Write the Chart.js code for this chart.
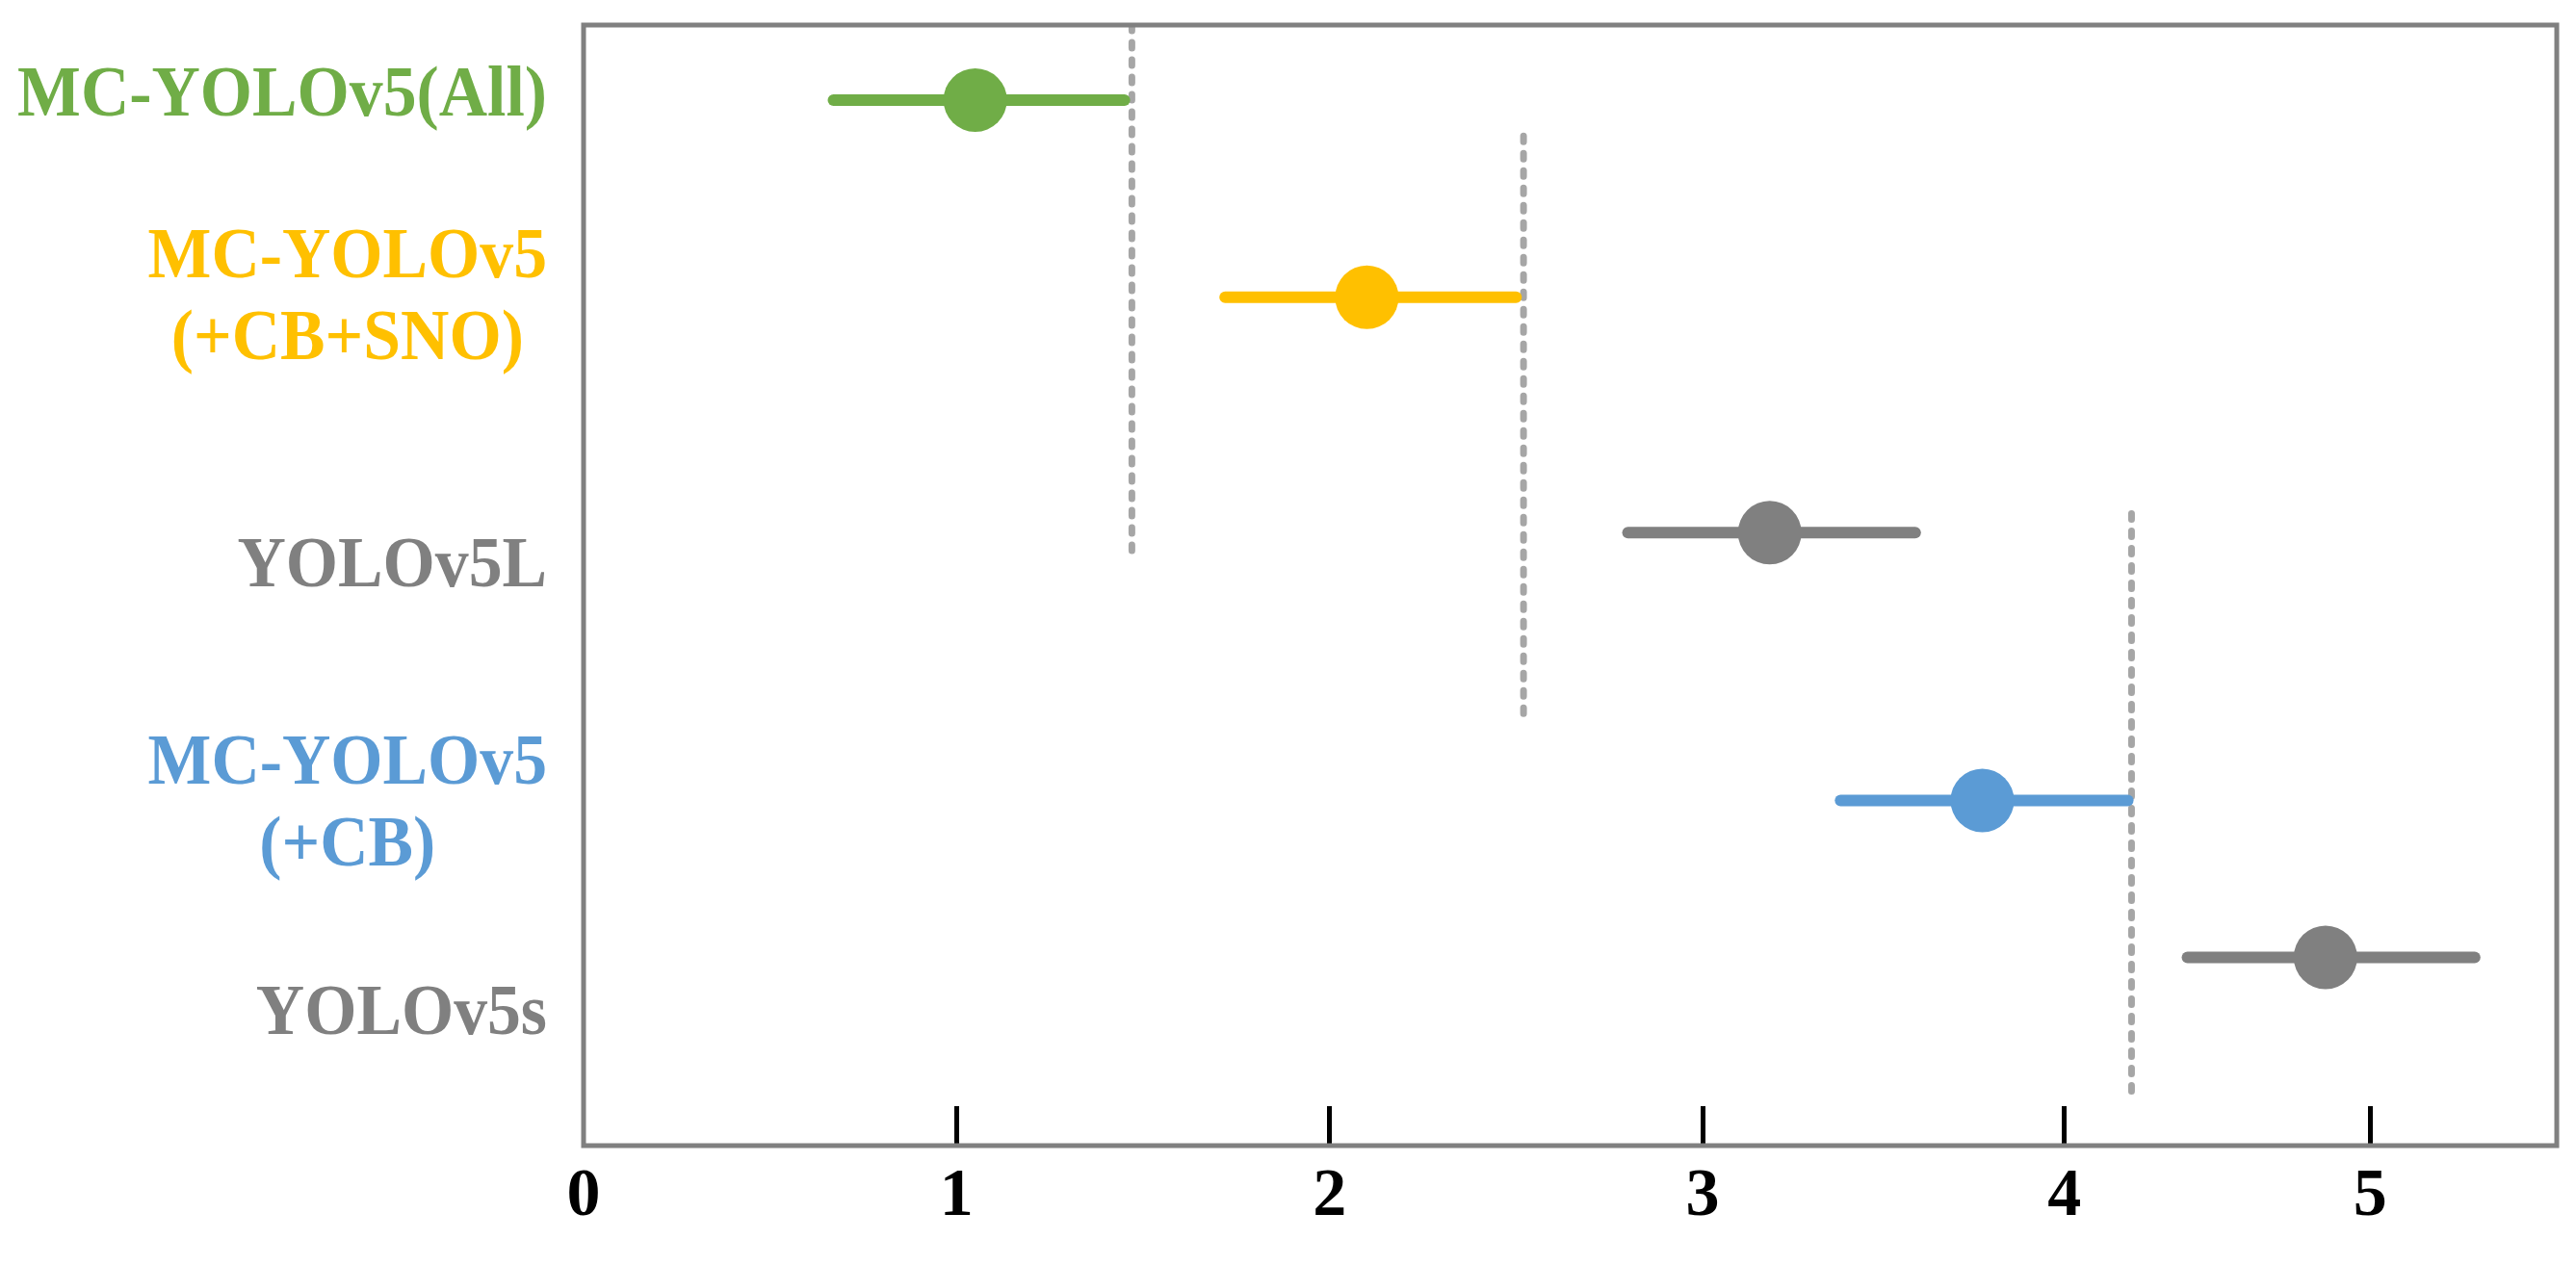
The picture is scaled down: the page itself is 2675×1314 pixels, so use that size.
<!DOCTYPE html>
<html>
<head>
<meta charset="utf-8">
<script src="https://cdn.jsdelivr.net/npm/chart.js@4.4.1/dist/chart.umd.min.js"></script>
<style>
  html, body { margin: 0; padding: 0; background: #fff; overflow: hidden; }
  canvas { display: block; }
</style>
</head>
<body>
<canvas id="rankChart" width="2675" height="1314" style="width:2675px;height:1314px"></canvas>
<script>
// models, top to bottom
const modelLabels = [["MC-YOLOv5(All)"], ["MC-YOLOv5", "(+CB+SNO)"], ["YOLOv5L"], ["MC-YOLOv5", "(+CB)"], ["YOLOv5s"]];
const modelColors = ["#70AD47", "#FFC000", "#808080", "#5B9BD5", "#808080"];

// mean rank and its interval
const rankMean = [1.05, 2.10, 3.18, 3.75, 4.67];
const rankLow = [0.67, 1.72, 2.80, 3.37, 4.30];
const rankHigh = [1.45, 2.50, 3.57, 4.14, 5.07];

// vertical place of each row (0 = top, 10 = bottom) and of its label
const rowPos = [0.67, 2.43, 4.53, 6.92, 8.32];
const labelPos = [0.60, 2.41, 4.80, 6.93, 8.80];

// critical difference cut-offs (dotted lines)
const cutoffX = [1.47, 2.52, 4.15];
const cutoffFrom = [0, 0.99, 4.36];
const cutoffTo = [4.76, 6.23, 9.57];

const tickValues = [0, 1, 2, 3, 3.97, 4.79];
const tickLabels = ["0", "1", "2", "3", "4", "5"];

const serif = '"Liberation Serif", "Times New Roman", serif';

const datasets = [];

// dots on top
datasets.push({
    data: rankMean.map((x, i) => ({ x: x, y: rowPos[i] })),
    pointRadius: 33,
    pointBackgroundColor: modelColors,
    pointBorderWidth: 0,
    order: 0,
});

// interval bars
rankMean.forEach((_, i) => {
    datasets.push({
        data: [{ x: rankLow[i], y: rowPos[i] }, { x: rankHigh[i], y: rowPos[i] }],
        showLine: true,
        borderColor: modelColors[i],
        borderWidth: 12,
        borderCapStyle: 'round',
        pointRadius: 0,
        order: 1,
    });
});

// dotted cut-off lines
cutoffX.forEach((x, i) => {
    datasets.push({
        data: [{ x: x, y: cutoffFrom[i] }, { x: x, y: cutoffTo[i] }],
        showLine: true,
        borderColor: '#A6A6A6',
        borderWidth: 7,
        borderDash: [6, 12],
        borderCapStyle: 'round',
        pointRadius: 0,
        order: 2,
    });
});

// plot frame and the coloured model names
const frameAndLabels = {
    id: 'frameAndLabels',
    afterDraw(chart) {
        const { ctx, chartArea: a } = chart;
        const y = chart.scales.y;
        ctx.save();
        ctx.strokeStyle = '#808080';
        ctx.lineWidth = 5;
        ctx.strokeRect(a.left, a.top, a.right - a.left, a.bottom - a.top);

        ctx.font = 'bold 73px ' + serif;
        ctx.textAlign = 'center';
        ctx.textBaseline = 'alphabetic';
        const squeeze = 0.955; // the original type is a little condensed
        const rightEdge = a.left - 38;
        const lineH = 85, capH = 48;
        modelLabels.forEach((lines, i) => {
            ctx.fillStyle = modelColors[i];
            const widest = Math.max(...lines.map(t => ctx.measureText(t).width)) * squeeze;
            const cx = rightEdge - widest / 2;
            const c = y.getPixelForValue(labelPos[i]);
            lines.forEach((t, k) => {
                ctx.save();
                ctx.translate(cx, c - (lines.length - 1) * lineH / 2 + k * lineH + capH / 2);
                ctx.scale(squeeze, 1);
                ctx.fillText(t, 0, 0);
                ctx.restore();
            });
        });
        ctx.restore();
    }
};

new Chart(document.getElementById("rankChart"), {
    type: 'scatter',
    data: { datasets: datasets },
    options: {
        responsive: false,
        animation: false,
        events: [],
        devicePixelRatio: 1,
        layout: { autoPadding: false, padding: { left: 606, top: 26, right: 20, bottom: 25 } },
        plugins: {
            legend: { display: false },
            tooltip: { enabled: false },
        },
        scales: {
            x: {
                type: 'linear',
                min: 0,
                max: 5.29,
                afterBuildTicks: (scale) => {
                    scale.ticks = tickValues.map(v => ({ value: v }));
                },
                afterFit: (scale) => {
                    scale.height = 99;
                    scale.paddingLeft = 0;
                    scale.paddingRight = 0;
                },
                border: { display: false },
                grid: {
                    drawOnChartArea: false,
                    drawTicks: true,
                    tickLength: -41,
                    tickWidth: 5,
                    tickColor: (ctx) => ctx.index === 0 ? 'rgba(0,0,0,0)' : '#000',
                },
                ticks: {
                    autoSkip: false,
                    maxRotation: 0,
                    padding: 53,
                    color: '#000',
                    font: { family: serif, size: 70, weight: 'bold' },
                    callback: (value, index) => tickLabels[index],
                },
            },
            y: {
                type: 'linear',
                display: false,
                reverse: true,
                min: 0,
                max: 10,
            },
        },
    },
    plugins: [frameAndLabels],
});
</script>
</body>
</html>
